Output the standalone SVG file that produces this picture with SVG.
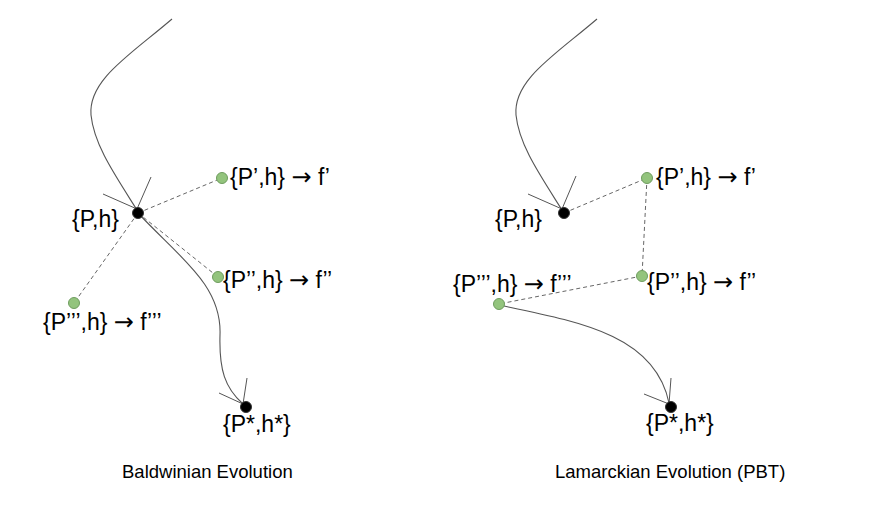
<svg xmlns="http://www.w3.org/2000/svg" width="888" height="505" viewBox="0 0 888 505">
<style>
  .curve{fill:none;stroke:#555;stroke-width:1.1}
  .arrow{fill:none;stroke:#555;stroke-width:1}
  .dash{fill:none;stroke:#666;stroke-width:1;stroke-dasharray:4 3}
  .blk{fill:#000;stroke:#333;stroke-width:1}
  .grn{fill:#93c47d;stroke:#6f9d5f;stroke-width:1}
  .lbl{font-family:"Liberation Sans",Arial,sans-serif;font-size:23px;fill:#000}
  .ar{font-family:"DejaVu Sans",sans-serif;font-size:24px}
  .cap{font-family:"Liberation Sans",Arial,sans-serif;font-size:18.5px;fill:#000}
</style>
<rect width="888" height="505" fill="#fff"/>
<g id="connectors">
  <!-- left panel -->
  <path class="curve" d="M172,19 C130,55 88,80 91,115 C94,145 115,175 137,210"/>
  <path class="arrow" d="M103,194 L137,209 L151,177"/>
  <path class="curve" d="M138,213 C180,258 222,285 220,335 C219,370 225,388 243,404"/>
  <path class="arrow" d="M219,393 L243,404 L247,378"/>
  <line class="dash" x1="138" y1="213" x2="222" y2="178"/>
  <line class="dash" x1="138" y1="213" x2="218" y2="277"/>
  <line class="dash" x1="138" y1="213" x2="74" y2="303"/>
  <!-- right panel -->
  <path class="curve" d="M597,19 C555,55 513,80 516,115 C519,145 540,175 562,210"/>
  <path class="arrow" d="M528,194 L562,209 L576,176"/>
  <line class="dash" x1="564" y1="213" x2="647" y2="178"/>
  <line class="dash" x1="647" y1="178" x2="642" y2="276"/>
  <line class="dash" x1="642" y1="276" x2="499" y2="304"/>
  <path class="curve" d="M499,305 C580,322 655,335 669,403"/>
  <path class="arrow" d="M644,394 L669,404 L671,378"/>
</g>
<g id="left-Ph"><circle class="blk" cx="138" cy="213" r="5.5"/><text class="lbl" x="72" y="227">{P,h}</text></g>
<g id="left-P1"><circle class="grn" cx="222" cy="178" r="5.5"/><text class="lbl" x="230" y="185">{P’,h} <tspan class="ar">→</tspan> f’</text></g>
<g id="left-P2"><circle class="grn" cx="218" cy="277" r="5.5"/><text class="lbl" x="223" y="288">{P’’,h} <tspan class="ar">→</tspan> f’’</text></g>
<g id="left-P3"><circle class="grn" cx="74" cy="303" r="5.5"/><text class="lbl" x="43" y="330">{P’’’,h} <tspan class="ar">→</tspan> f’’’</text></g>
<g id="left-Pstar"><circle class="blk" cx="246" cy="407" r="5.5"/><text class="lbl" x="223" y="432">{P*,h*}</text></g>
<g id="right-Ph"><circle class="blk" cx="564" cy="213" r="5.5"/><text class="lbl" x="495" y="227">{P,h}</text></g>
<g id="right-P1"><circle class="grn" cx="647" cy="178" r="5.5"/><text class="lbl" x="656" y="185">{P’,h} <tspan class="ar">→</tspan> f’</text></g>
<g id="right-P2"><circle class="grn" cx="642" cy="276" r="5.5"/><text class="lbl" x="647" y="290">{P’’,h} <tspan class="ar">→</tspan> f’’</text></g>
<g id="right-P3"><circle class="grn" cx="499" cy="304" r="5.5"/><text class="lbl" x="453" y="292">{P’’’,h} <tspan class="ar">→</tspan> f’’’</text></g>
<g id="right-Pstar"><circle class="blk" cx="671" cy="407" r="5.5"/><text class="lbl" x="646" y="431">{P*,h*}</text></g>
<g id="captions">
  <text class="cap" x="122" y="478">Baldwinian Evolution</text>
  <text class="cap" x="555" y="478">Lamarckian Evolution (PBT)</text>
</g>
</svg>
